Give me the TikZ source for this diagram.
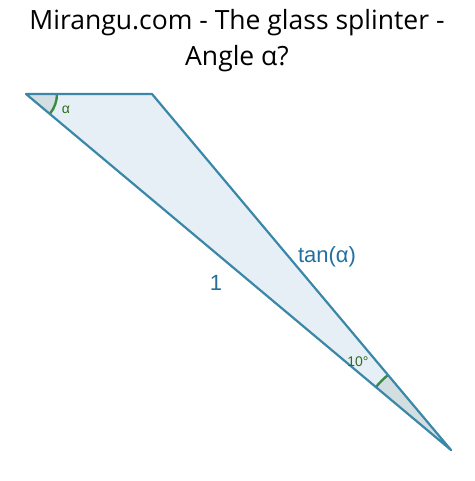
\documentclass[tikz,border=0pt]{standalone}
\usepackage{fontspec}
\setmainfont{Open Sans}
\newfontfamily\lab{Liberation Sans}
\definecolor{edge}{HTML}{3A87A8}
\definecolor{fillb}{HTML}{E6EFF6}
\definecolor{sect}{HTML}{D3DEE2}
\definecolor{arcg}{HTML}{3A8A46}
\definecolor{labb}{HTML}{23709E}
\definecolor{labg}{HTML}{2F6A1E}
\begin{document}
\begin{tikzpicture}[x=1pt,y=-1pt,
  edgeline/.style={draw=edge,line width=2.2pt,line join=round},
  arcline/.style={draw=arcg,line width=2.4pt},
  sidelabel/.style={text=labb,font=\lab\fontsize{22}{22}\selectfont},
  anglabel/.style={text=labg,font=\lab\fontsize{14}{14}\selectfont}]
\useasboundingbox (0,0) rectangle (474,481);
\node[font=\fontsize{26.5}{36}\selectfont,align=center] (title) at (237,41) {Mirangu.com - The glass splinter -\\Angle α?};
\coordinate (A) at (26,94);
\coordinate (B) at (152,94);
\coordinate (C) at (451,450);
\fill[fillb] (A) -- (B) -- (C) -- cycle;
\fill[sect] (A) -- ++(0:31) arc[start angle=0,end angle=39.95,radius=31] -- cycle;
\fill[sect] (C) -- ++(219.95:98) arc[start angle=219.95,end angle=230,radius=98] -- cycle;
\draw[arcline] (A) ++(0:31) arc[start angle=0,end angle=39.95,radius=31];
\draw[arcline] (C) ++(219.95:98) arc[start angle=219.95,end angle=230,radius=98];
\draw[edgeline] (A) -- (B) -- (C) -- cycle;
\node[anglabel] (alpha) at (66,110) {α};
\node[anglabel] (ten) at (358,362) {10°};
\node[sidelabel] (tan) at (327,257) {tan(α)};
\node[sidelabel] (one) at (216,283) {1};
\end{tikzpicture}
\end{document}
